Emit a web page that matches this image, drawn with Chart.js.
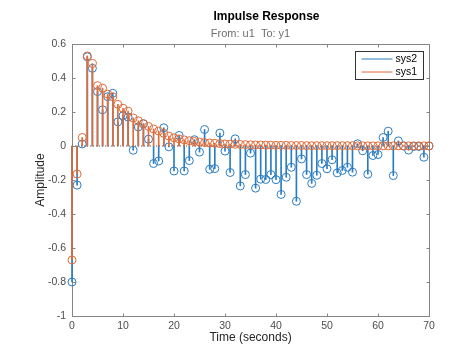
<!DOCTYPE html>
<html>
<head>
<meta charset="utf-8">
<script src="https://cdn.jsdelivr.net/npm/chart.js@4.4.0/dist/chart.umd.min.js"></script>
<style>
  html, body { margin: 0; padding: 0; background: #fff; }
</style>
</head>
<body>
<canvas id="chart" width="474" height="355"></canvas>
<script>
// sample times (s)
const times = [0, 1, 2, 3, 4, 5, 6, 7, 8, 9, 10, 11, 12, 13, 14, 15, 16, 17, 18, 19,
  20, 21, 22, 23, 24, 25, 26, 27, 28, 29, 30, 31, 32, 33, 34, 35, 36, 37, 38, 39,
  40, 41, 42, 43, 44, 45, 46, 47, 48, 49, 50, 51, 52, 53, 54, 55, 56, 57, 58, 59,
  60, 61, 62, 63, 64, 65, 66, 67, 68, 69, 70];

// sys2 (blue)
const sys2 = [-0.80, -0.23, 0.012, 0.525, 0.457, 0.32, 0.213, 0.29, 0.31, 0.142,
  0.178, 0.17, -0.025, 0.112, 0.13, 0.04, -0.103, -0.088, 0.107, -0.005,
  -0.147, 0.062, -0.147, -0.086, 0.037, -0.036, 0.097, -0.137, -0.133, 0.076,
  -0.03, -0.156, 0.042, -0.235, -0.168, -0.042, -0.248, -0.195, -0.197, -0.168,
  -0.198, -0.285, -0.184, -0.125, -0.325, -0.076, -0.168, -0.22, -0.172, -0.103,
  -0.134, -0.081, -0.158, -0.144, -0.125, -0.154, 0.013, -0.028, -0.166, -0.056,
  -0.05, 0.05, 0.087, -0.174, 0.03, 0.0, -0.024, -0.003, -0.003, -0.066, 0.0];

// sys1 (orange)
const sys1 = [-0.67, -0.165, 0.05, 0.53, 0.485, 0.355, 0.34, 0.305, 0.29, 0.245,
  0.222, 0.205, 0.165, 0.148, 0.132, 0.115, 0.10, 0.088, 0.075, 0.058,
  0.048, 0.042, 0.036, 0.031, 0.027, 0.023, 0.020, 0.018, 0.016, 0.014,
  0.012, 0.011, 0.010, 0.009, 0.008, 0.007, 0.006, 0.006, 0.005, 0.005,
  0.004, 0.004, 0.004, 0.003, 0.003, 0.003, 0.002, 0.002, 0.002, 0.002,
  0.002, 0.002, 0.002, 0.002, 0.002, 0.002, 0.001, 0.001, 0.001, 0.001,
  0.001, 0.001, 0.001, 0.001, 0.001, 0.001, 0.001, 0.001, 0.001, 0.001, 0.001];

const xTicks = [0, 10, 20, 30, 40, 50, 60, 70];
const yTicks = [-1, -0.8, -0.6, -0.4, -0.2, 0, 0.2, 0.4, 0.6];
const yTickLabels = ['-1', '-0.8', '-0.6', '-0.4', '-0.2', '0', '0.2', '0.4', '0.6'];
const zeroLine = [0, 70];

const BLUE = '#2a7dc2';
const ORANGE = '#e06a38';
const AXIS = '#858585';
const LABEL = '#4d4d4d';
const FONT = "'Liberation Sans', Arial, sans-serif";

const toXY = vals => vals.map((v, i) => ({ x: times[i], y: v }));

// box + inward ticks go under the stems, titles and legend on top
const matlabFrame = {
  id: 'matlabFrame',
  beforeDatasetsDraw(chart) {
    const { ctx, chartArea: a, scales: { x, y } } = chart;
    const L = Math.round(a.left) + 0.5, R = Math.round(a.right) + 0.5;
    const T = Math.round(a.top) + 0.5, B = Math.round(a.bottom) + 0.5;
    ctx.save();
    ctx.strokeStyle = AXIS;
    ctx.lineWidth = 1;
    ctx.strokeRect(L, T, R - L, B - T);
    ctx.beginPath();
    xTicks.forEach(v => {
      const px = Math.round(x.getPixelForValue(v)) + 0.5;
      ctx.moveTo(px, B); ctx.lineTo(px, B - 3);
      ctx.moveTo(px, T); ctx.lineTo(px, T + 3);
    });
    yTicks.forEach(v => {
      const py = Math.round(y.getPixelForValue(v)) + 0.5;
      ctx.moveTo(L, py); ctx.lineTo(L + 3, py);
      ctx.moveTo(R, py); ctx.lineTo(R - 3, py);
    });
    ctx.stroke();
    ctx.restore();
  },
  afterDraw(chart) {
    const { ctx, chartArea: a } = chart;
    ctx.save();
    // title + subtitle
    const cx = (a.left + a.right) / 2;
    ctx.textAlign = 'center';
    ctx.textBaseline = 'middle';
    ctx.fillStyle = '#000';
    ctx.font = 'bold 12px ' + FONT;
    ctx.fillText('Impulse Response', cx + 16, 17);
    ctx.fillStyle = '#6e6e6e';
    ctx.font = '11px ' + FONT;
    ctx.fillText('From: u1  To: y1', cx, 34);

    // legend
    const lx = Math.round(a.right) - 74 + 0.5, ly = Math.round(a.top) + 7 + 0.5;
    ctx.fillStyle = '#fff';
    ctx.fillRect(lx, ly, 68, 28);
    ctx.strokeStyle = '#333';
    ctx.lineWidth = 1;
    ctx.strokeRect(lx, ly, 68, 28);
    const entries = chart.data.datasets.filter(d => d.legendEntry);
    entries.forEach((d, i) => {
      const ey = ly + 7.5 + i * 13;
      ctx.strokeStyle = d.borderColor;
      ctx.beginPath();
      ctx.moveTo(lx + 6, ey); ctx.lineTo(lx + 37, ey);
      ctx.stroke();
      ctx.fillStyle = '#000';
      ctx.textAlign = 'left';
      ctx.font = '10.5px ' + FONT;
      ctx.fillText(d.label, lx + 40, ey + 0.5);
    });
    ctx.restore();
  }
};

new Chart(document.getElementById('chart').getContext('2d'), {
  data: {
    datasets: [
      {
        type: 'line', label: 'zero',
        data: zeroLine.map(t => ({ x: t, y: 0 })),
        borderColor: '#555', borderWidth: 1, borderDash: [1, 2],
        pointRadius: 0, order: 5
      },
      {
        type: 'bar', label: 'sys2 stems', data: toXY(sys2),
        backgroundColor: BLUE, barThickness: 1, grouped: false, order: 4, clip: false
      },
      {
        type: 'scatter', label: 'sys2', legendEntry: true, data: toXY(sys2),
        borderColor: BLUE, backgroundColor: 'rgba(0,0,0,0)',
        pointRadius: 4, pointBorderWidth: 1, order: 3, clip: false
      },
      {
        type: 'bar', label: 'sys1 stems', data: toXY(sys1),
        backgroundColor: ORANGE, barThickness: 1, grouped: false, order: 2, clip: false
      },
      {
        type: 'scatter', label: 'sys1', legendEntry: true, data: toXY(sys1),
        borderColor: ORANGE, backgroundColor: 'rgba(0,0,0,0)',
        pointRadius: 4, pointBorderWidth: 1, order: 1, clip: false
      }
    ]
  },
  options: {
    responsive: false,
    devicePixelRatio: 1,
    animation: false,
    layout: { padding: { left: 29.4, right: 45, top: 44, bottom: 6.4 } },
    plugins: {
      legend: { display: false },
      tooltip: { enabled: false },
      title: { display: false }
    },
    scales: {
      x: {
        type: 'linear', min: 0, max: 70, offset: false,
        grid: { display: false, drawTicks: false },
        border: { display: false },
        afterBuildTicks: s => { s.ticks = xTicks.map(v => ({ value: v })); },
        afterFit: s => { s.height = 32.6; },
        ticks: {
          padding: 4, maxRotation: 0, autoSkip: false, color: LABEL,
          font: { family: FONT, size: 10.5 },
          callback: v => String(v)
        },
        title: {
          display: true, text: 'Time (seconds)', color: '#262626',
          font: { family: FONT, size: 12 }, padding: { top: 0, bottom: 4 }
        }
      },
      y: {
        type: 'linear', min: -1, max: 0.6,
        grid: { display: false, drawTicks: false },
        border: { display: false },
        afterBuildTicks: s => { s.ticks = yTicks.map(v => ({ value: v })); },
        afterFit: s => { s.width = 42.6; },
        ticks: {
          padding: 6, autoSkip: false, color: LABEL,
          font: { family: FONT, size: 10.5 },
          callback: (v, i) => yTickLabels[i]
        },
        title: {
          display: true, text: 'Amplitude', color: '#262626',
          font: { family: FONT, size: 12 }, padding: { top: 4, bottom: 4 }
        }
      }
    }
  },
  plugins: [matlabFrame]
});
</script>
</body>
</html>
